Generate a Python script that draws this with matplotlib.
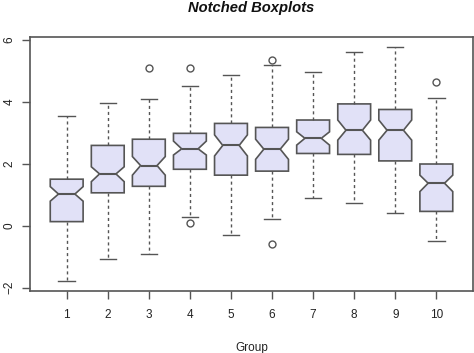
import matplotlib
matplotlib.use('Agg')
import matplotlib.pyplot as plt

groups = [1, 2, 3, 4, 5, 6, 7, 8, 9, 10]
med = [1.02, 1.67, 1.94, 2.48, 2.59, 2.47, 2.82, 3.08, 3.08, 1.37]
q1 = [0.13, 1.06, 1.27, 1.82, 1.63, 1.76, 2.33, 2.30, 2.09, 0.46]
q3 = [1.50, 2.59, 2.79, 2.98, 3.30, 3.17, 3.41, 3.93, 3.75, 1.99]
whislo = [-1.80, -1.08, -0.90, 0.29, -0.29, 0.23, 0.90, 0.72, 0.41, -0.49]
whishi = [3.53, 3.97, 4.10, 4.51, 4.86, 5.18, 4.96, 5.61, 5.77, 4.13]
cilo = [0.79, 1.42, 1.63, 2.28, 2.25, 2.14, 2.60, 2.76, 2.76, 1.10]
cihi = [1.26, 1.90, 2.23, 2.73, 2.93, 2.79, 3.03, 3.41, 3.41, 1.63]
fliers = [[], [], [5.10], [5.10, 0.07], [], [5.36, -0.58], [], [], [], [4.64]]

plt.rcParams['font.family'] = ['Liberation Sans', 'DejaVu Sans']

stats = []
for i in range(len(groups)):
    stats.append({'med': med[i], 'q1': q1[i], 'q3': q3[i],
                  'whislo': whislo[i], 'whishi': whishi[i],
                  'cilo': cilo[i], 'cihi': cihi[i], 'fliers': fliers[i]})

edge = '#555555'
fig = plt.figure(figsize=(4.74, 3.53), dpi=100)
ax = fig.add_axes([0.0627, 0.1765, 0.9358, 0.7178])

ax.bxp(stats, positions=groups, widths=0.8, capwidths=0.4,
       shownotches=True, patch_artist=True,
       boxprops=dict(facecolor='#e1e1f7', edgecolor=edge, linewidth=1.2),
       whiskerprops=dict(color=edge, linewidth=1.0, linestyle=(0, (2.2, 2.2))),
       capprops=dict(color=edge, linewidth=1.0),
       medianprops=dict(color=edge, linewidth=1.5),
       flierprops=dict(marker='o', markersize=5, markerfacecolor='none',
                       markeredgecolor=edge, markeredgewidth=1.0))

ax.set_xlim(0.1, 10.9)
ax.set_ylim(-2.10, 6.08)
ax.set_xticks(groups)
ax.set_xticklabels([str(g) for g in groups])
ax.set_yticks([-2, 0, 2, 4, 6])
for s in ax.spines.values():
    s.set_color(edge)
    s.set_linewidth(1.2)
ax.tick_params(axis='both', length=6, width=1.0, color=edge, labelsize=8.5,
               labelcolor='#222222')
ax.tick_params(axis='x', pad=7)
ax.tick_params(axis='y', pad=4, labelrotation=90)
for lab in ax.get_yticklabels():
    lab.set_va('center')

ax.set_xlabel('Group', fontsize=8.5, color='#222222', labelpad=15)
fig.text(0.5306, 0.996, 'Notched Boxplots', ha='center', va='top',
         fontsize=10.6, fontweight='bold', fontstyle='italic', color='#111111')

fig.savefig('out.png', dpi=100)
